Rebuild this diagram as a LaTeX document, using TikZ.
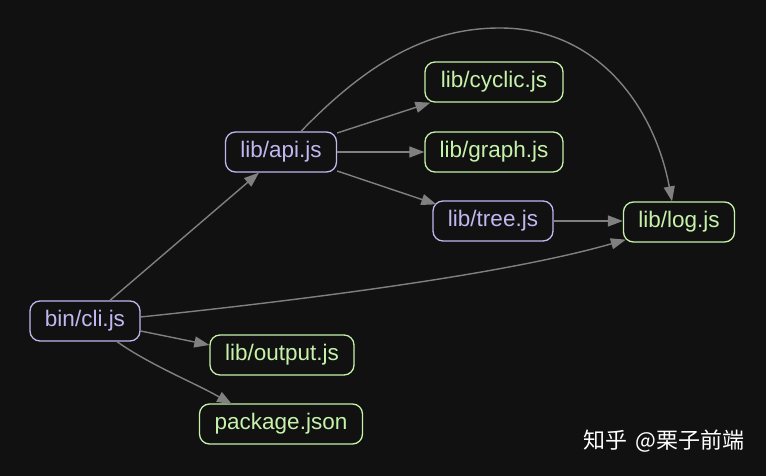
\documentclass[tikz,border=0pt]{standalone}
\usepackage{fontspec}
\setmainfont{Liberation Sans}
\newfontfamily\cjk{Noto Sans CJK SC}
\usetikzlibrary{arrows.meta,calc}
\definecolor{bg}{HTML}{111111}
\definecolor{lav}{HTML}{C0B8F0}
\definecolor{grn}{HTML}{C6F2AA}
\definecolor{edge}{HTML}{808080}
\begin{document}
\begin{tikzpicture}[x=1pt,y=-1pt,
  modbox/.style={draw, line width=1.3pt, rounded corners=10pt, fill=bg, minimum height=40pt, inner sep=0pt, font=\fontsize{22.5}{26}\selectfont, anchor=center},
  lavbox/.style={modbox, draw=lav, text=lav},
  grnbox/.style={modbox, draw=grn, text=grn},
  conn/.style={draw=edge, line width=1.4pt, -{Triangle[length=15pt,width=11pt]}}
]
\fill[bg] (0,0) rectangle (766,476);
\useasboundingbox (0,0) rectangle (766,476);
\node[lavbox, minimum width=110pt] (cli) at (85,321) {bin/cli.js};
\node[lavbox, minimum width=111pt] (api) at (281,152) {lib/api.js};
\node[grnbox, minimum width=138pt] (cyclic) at (494,82) {lib/cyclic.js};
\node[grnbox, minimum width=138pt] (graph) at (494,152) {lib/graph.js};
\node[lavbox, minimum width=120pt] (tree) at (493,221) {lib/tree.js};
\node[grnbox, minimum width=111pt] (log) at (679,222) {lib/log.js};
\node[grnbox, minimum width=144pt] (output) at (282,355) {lib/output.js};
\node[grnbox, minimum width=163pt] (pkg) at (281,424) {package.json};
\node[text=white, font=\cjk\fontsize{22}{26}\selectfont, anchor=west, inner sep=0pt] (wm) at (583,441) {知乎\hspace{8pt}@栗子前端};

% bin/cli.js edges
\draw[conn] ($(cli.north)+(25,0)$) -- ($(api.south)+(-22,0)$);
\draw[conn] ($(cli.east)+(0,-4)$) .. controls (350,295) and (520,270) .. ($(log.south west)+(3,-3)$);
\draw[conn] ($(cli.east)+(0,10)$) -- ($(output.west)+(0,-10)$);
\draw[conn] ($(cli.south)+(32,0)$) .. controls (150,365) and (195,383) .. ($(pkg.north)+(-49,1)$);
% lib/api.js edges
\draw[conn] ($(api.east)+(0,-19)$) -- ($(cyclic.south west)+(6,0)$);
\draw[conn] (api.east) -- (graph.west);
\draw[conn] ($(api.east)+(0,19)$) -- ($(tree.north west)+(4,4)$);
\draw[conn] ($(api.north)+(20,0)$) .. controls (370,60) and (430,28) .. (500,28)
  .. controls (600,28) and (655,110) .. ($(log.north)+(-7,0)$);
% lib/tree.js edge
\draw[conn] (tree.east) -- ($(log.west)+(0,-1)$);
\end{tikzpicture}
\end{document}
